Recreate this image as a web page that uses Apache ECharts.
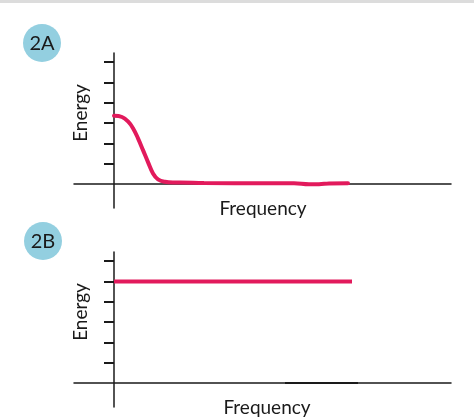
<!DOCTYPE html>
<html>
<head>
<meta charset="utf-8">
<script src="https://cdn.jsdelivr.net/npm/echarts@6/dist/echarts.min.js"></script>
<style>
  html, body { margin: 0; padding: 0; background: #fff; }
  #chart { width: 474px; height: 420px; }
</style>
</head>
<body>
<div id="chart"></div>
<script>
// panel 2A: energy falls off quickly with frequency
const freqA = [0, 8, 14, 19, 24, 29, 34, 39, 44, 51, 59, 66, 90, 150, 180, 195, 205, 215, 234]
const energyA = [3.36, 3.3, 3.08, 2.75, 2.25, 1.67, 1.08, 0.52, 0.23, 0.11, 0.08, 0.08, 0.05, 0.04, 0.04, -0.01, -0.01, 0.03, 0.04]

// panel 2B: flat energy across frequencies
const freqB = [0, 238]
const energyB = [5, 5]

// darker stretch on the 2B frequency axis
const baseFreqB = [171, 244]
const baseEnergyB = [0, 0]

const tickValues = [1, 2, 3, 4, 5, 6]
const panelLabels = ['2A', '2B']

const RED = '#e21a5c'
const INK = '#1a1a1a'
const FONT = 'Lato, sans-serif'

const chart = echarts.init(document.getElementById('chart'))

const zip = (xs, ys) => xs.map((x, i) => [x, ys[i]])

const makeX = (gridIndex) => ({
  type: 'value',
  gridIndex,
  min: -40,
  max: 337,
  axisLine: { onZero: true, lineStyle: { color: INK, width: 1.5 } },
  axisTick: { show: false },
  axisLabel: { show: false },
  splitLine: { show: false }
})

const makeY = (gridIndex) => ({
  type: 'value',
  gridIndex,
  min: -1.18,
  max: 6.45,
  axisLine: { onZero: true, lineStyle: { color: INK, width: 1.5 } },
  axisTick: {
    show: true,
    length: 10,
    customValues: tickValues,
    lineStyle: { color: INK, width: 2 }
  },
  axisLabel: { show: false },
  splitLine: { show: false }
})

const badge = (label, cx, cy) => ({
  type: 'group',
  children: [
    { type: 'circle', shape: { cx, cy, r: 19 }, style: { fill: '#93cfe0' } },
    {
      type: 'text',
      x: cx,
      y: cy + 1,
      style: {
        text: label,
        fill: INK,
        font: '20px ' + FONT,
        align: 'center',
        verticalAlign: 'middle'
      }
    }
  ]
})

const axisText = (text, cx, cy, rotation) => ({
  type: 'text',
  x: cx,
  y: cy,
  rotation,
  style: {
    text,
    fill: INK,
    font: '19px ' + FONT,
    align: 'center',
    verticalAlign: 'middle'
  }
})

chart.setOption({
  animation: false,
  grid: [
    { left: 74, width: 377, top: 53, height: 155, outerBoundsMode: 'none' },
    { left: 74, width: 377, top: 252, height: 155, outerBoundsMode: 'none' }
  ],
  xAxis: [makeX(0), makeX(1)],
  yAxis: [makeY(0), makeY(1)],
  graphic: [
    { type: 'rect', shape: { x: 0, y: 0, width: 474, height: 3 }, style: { fill: '#dcdcdc' } },
    badge(panelLabels[0], 42, 43),
    badge(panelLabels[1], 43, 241),
    axisText('Energy', 81, 113, Math.PI / 2),
    axisText('Energy', 81, 312, Math.PI / 2),
    axisText('Frequency', 263, 209, 0),
    axisText('Frequency', 267, 408, 0)
  ],
  series: [
    {
      type: 'line',
      xAxisIndex: 0,
      yAxisIndex: 0,
      data: zip(freqA, energyA),
      smooth: 0.4,
      showSymbol: false,
      lineStyle: { color: RED, width: 4, cap: 'round' }
    },
    {
      type: 'line',
      xAxisIndex: 1,
      yAxisIndex: 1,
      data: zip(baseFreqB, baseEnergyB),
      showSymbol: false,
      lineStyle: { color: INK, width: 2 }
    },
    {
      type: 'line',
      xAxisIndex: 1,
      yAxisIndex: 1,
      data: zip(freqB, energyB),
      showSymbol: false,
      lineStyle: { color: RED, width: 4 }
    }
  ]
})
</script>
</body>
</html>
